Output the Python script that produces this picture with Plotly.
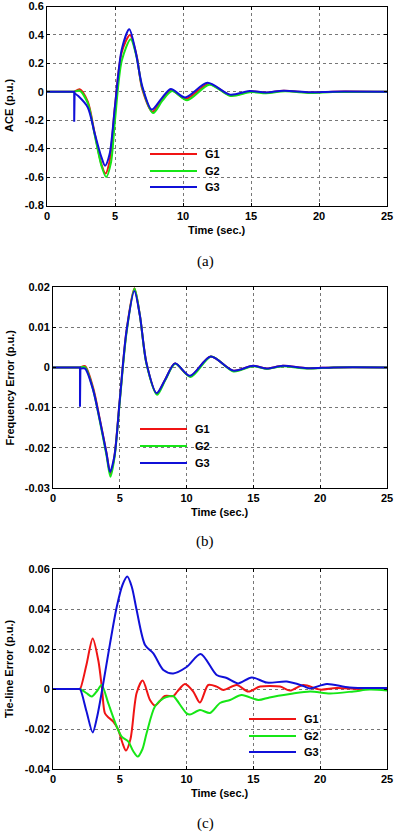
import plotly.graph_objects as go

W, H = 395, 834

# ---------------- data ----------------
# Panel (a): ACE
ace_g1_t = [0, 1.9, 2.0, 2.4, 3.0, 3.5, 4.0, 4.3, 4.6, 5.0, 5.5, 6.1, 6.6, 7.0, 7.75, 8.5, 9.15, 10.2, 11.9, 13.5, 15.0, 16.1, 17.4, 19.3, 21.0, 25.0]
ace_g1_v = [0, 0, 0, 0.018, -0.07, -0.29, -0.51, -0.575, -0.49, -0.1, 0.28, 0.40, 0.25, 0.02, -0.14, -0.05, 0.01, -0.05, 0.055, -0.025, 0.003, -0.006, 0.007, -0.005, 0.001, 0]
ace_g2_t = [0, 1.9, 2.0, 2.4, 3.0, 3.5, 4.0, 4.35, 4.7, 5.0, 5.5, 6.15, 6.6, 7.0, 7.8, 8.5, 9.2, 10.3, 11.95, 13.5, 15.0, 16.1, 17.5, 19.4, 21.0, 25.0]
ace_g2_v = [0, 0, 0, 0.008, -0.08, -0.30, -0.52, -0.60, -0.50, -0.2, 0.22, 0.37, 0.24, 0.03, -0.15, -0.06, 0.005, -0.06, 0.05, -0.03, -0.002, -0.01, 0.003, -0.008, -0.002, 0]
ace_g3_t = [0, 2.0, 2.0, 2.03, 2.3, 3.0, 3.5, 4.0, 4.27, 4.6, 5.0, 5.5, 6.05, 6.5, 7.0, 7.7, 8.4, 9.1, 10.15, 11.8, 13.45, 14.9, 16.1, 17.4, 19.3, 21.0, 25.0]
ace_g3_v = [0, 0, -0.21, -0.01, -0.03, -0.11, -0.29, -0.46, -0.52, -0.44, -0.1, 0.30, 0.44, 0.29, 0.04, -0.125, -0.05, 0.02, -0.04, 0.063, -0.02, 0.005, -0.005, 0.008, -0.004, 0.001, 0]

# Panel (b): Frequency error
fe_g1_t = [0, 1.9, 2.02, 2.4, 3.0, 3.5, 4.0, 4.3, 4.6, 5.0, 5.5, 6.09, 6.5, 7.0, 7.76, 8.4, 9.13, 10.25, 11.8, 13.5, 15.0, 16.0, 17.2, 19.0, 21.0, 25.0]
fe_g1_v = [0, 0, 0, 0.0003, -0.005, -0.0128, -0.0212, -0.0265, -0.022, -0.008, 0.009, 0.0197, 0.013, 0.001, -0.0065, -0.003, 0.001, -0.0022, 0.0027, -0.0008, 0.0004, -0.0003, 0.0004, -0.0002, 0, 0]
fe_g2_t = [0, 1.9, 2.02, 2.4, 3.0, 3.5, 4.0, 4.3, 4.6, 5.0, 5.5, 6.1, 6.5, 7.0, 7.8, 8.4, 9.15, 10.3, 11.85, 13.5, 15.0, 16.0, 17.2, 19.0, 21.0, 25.0]
fe_g2_v = [0, 0, 0, 0.0001, -0.0055, -0.0133, -0.0218, -0.0272, -0.0225, -0.0085, 0.0085, 0.0196, 0.013, 0.0008, -0.0068, -0.0032, 0.0009, -0.0024, 0.0027, -0.0010, 0.0003, -0.0004, 0.0003, -0.0003, 0, 0]
fe_g3_t = [0, 2.02, 2.02, 2.05, 2.4, 3.0, 3.5, 4.0, 4.27, 4.6, 5.0, 5.5, 6.09, 6.5, 7.0, 7.76, 8.4, 9.13, 10.25, 11.8, 13.5, 14.98, 16.0, 17.2, 19.0, 21.0, 25.0]
fe_g3_v = [0, 0, -0.0098, -0.0003, -0.0003, -0.0056, -0.013, -0.0213, -0.026, -0.022, -0.008, 0.009, 0.019, 0.013, 0.001, -0.0064, -0.003, 0.001, -0.0021, 0.0027, -0.0008, 0.0004, -0.0003, 0.0004, -0.0002, 0, 0]

# Panel (c): Tie-line error
tl_g1_t = [0, 1.9, 2.02, 2.5, 2.97, 3.4, 3.67, 3.89, 4.2, 4.51, 4.89, 5.2, 5.46, 5.8, 6.26, 6.71, 7.26, 7.63, 8.38, 9.0, 9.3, 9.88, 10.5, 11.0, 11.62, 12.25, 12.75, 13.75, 14.62, 15.5, 17.0, 17.74, 18.74, 20.0, 21.2, 23.0, 25.0]
tl_g1_v = [0, 0, 0, 0.012, 0.0253, 0.014, 0.0, -0.0122, -0.0145, -0.0163, -0.0205, -0.027, -0.0308, -0.025, -0.002, 0.0042, -0.0055, -0.0083, -0.0035, -0.0035, -0.0013, 0.0025, -0.0013, -0.0068, 0.002, 0.0012, -0.0005, 0.002, -0.0013, 0.0012, 0.0012, -0.0008, 0.002, -0.0003, 0.0005, 0, 0]
tl_g2_t = [0, 1.9, 2.02, 2.5, 2.9, 3.3, 3.64, 4.14, 4.77, 5.14, 5.64, 6.0, 6.34, 6.7, 7.01, 7.63, 8.26, 9.0, 9.26, 10.0, 10.25, 11.0, 11.75, 12.5, 13.25, 14.12, 15.37, 16.2, 17.74, 19.24, 20.73, 22.5, 23.7, 25.0]
tl_g2_v = [0, 0, 0, -0.002, -0.0038, -0.001, 0.002, -0.0072, -0.0188, -0.0238, -0.0263, -0.031, -0.0338, -0.03, -0.022, -0.0088, -0.0047, -0.0035, -0.0055, -0.0122, -0.0128, -0.0105, -0.012, -0.007, -0.0055, -0.003, -0.0055, -0.0042, -0.0025, -0.0012, -0.0022, -0.0012, -0.0003, -0.0007]
tl_g3_t = [0, 1.9, 2.02, 2.5, 2.97, 3.3, 3.69, 4.27, 4.77, 5.2, 5.56, 5.9, 6.26, 6.89, 7.51, 8.26, 9.0, 10.0, 11.05, 12.25, 13.0, 13.87, 14.87, 16.0, 17.5, 18.74, 19.24, 20.49, 22.2, 25.0]
tl_g3_v = [0, 0, 0, -0.011, -0.0217, -0.014, 0.0, 0.0228, 0.041, 0.052, 0.0562, 0.051, 0.0395, 0.022, 0.0178, 0.0095, 0.0078, 0.011, 0.0175, 0.007, 0.0055, 0.0028, 0.0058, 0.0032, 0.0037, 0.0015, 0.0003, 0.0025, 0.0007, 0.0005]

x_ticks = [0, 5, 10, 15, 20, 25]
x_ticklabels = ["0", "5", "10", "15", "20", "25"]
ace_ticks = [0.6, 0.4, 0.2, 0, -0.2, -0.4, -0.6, -0.8]
ace_ticklabels = ["0.6", "0.4", "0.2", "0", "-0.2", "-0.4", "-0.6", "-0.8"]
fe_ticks = [0.02, 0.01, 0, -0.01, -0.02, -0.03]
fe_ticklabels = ["0.02", "0.01", "0", "-0.01", "-0.02", "-0.03"]
tl_ticks = [0.06, 0.04, 0.02, 0, -0.02, -0.04]
tl_ticklabels = ["0.06", "0.04", "0.02", "0", "-0.02", "-0.04"]

series_names = ["G1", "G2", "G3"]
colors = ["#f01414", "#16e616", "#1010d8"]

# ---------------- figure ----------------
def px_x(p):
    return min(1.0, max(0.0, p / W))

def px_y(p):
    return min(1.0, max(0.0, 1 - p / H))

panels = [
    dict(xl=47, xr=387, yt=6.5, yb=205.5, yr=[-0.8, 0.6], tv=ace_ticks, tt=ace_ticklabels,
         data=[(ace_g1_t, ace_g1_v), (ace_g2_t, ace_g2_v), (ace_g3_t, ace_g3_v)],
         ytitle="ACE (p.u.)", cap="(a)", capy=261, leg_y=[154, 171, 187], leg_x=150),
    dict(xl=53, xr=387, yt=287, yb=488, yr=[-0.03, 0.02], tv=fe_ticks, tt=fe_ticklabels,
         data=[(fe_g1_t, fe_g1_v), (fe_g2_t, fe_g2_v), (fe_g3_t, fe_g3_v)],
         ytitle="Frequency Error (p.u.)", cap="(b)", capy=541, leg_y=[429, 446, 463], leg_x=140),
    dict(xl=53, xr=387, yt=569, yb=769, yr=[-0.04, 0.06], tv=tl_ticks, tt=tl_ticklabels,
         data=[(tl_g1_t, tl_g1_v), (tl_g2_t, tl_g2_v), (tl_g3_t, tl_g3_v)],
         ytitle="Tie-line Error (p.u.)", cap="(c)", capy=823, leg_y=[719, 736, 752], leg_x=249),
]

fig = go.Figure()
annotations = []
shapes = []
boldfont = dict(family="Liberation Sans, Arial, sans-serif", size=11, color="black", weight="bold")


def spike_end(t):
    for j in range(1, len(t)):
        if t[j] == t[j - 1]:
            return j + 1
    return None


for i, p in enumerate(panels):
    n = "" if i == 0 else str(i + 1)
    for k, (t, v) in enumerate(p["data"]):
        e = spike_end(t)
        if e is not None:
            fig.add_trace(go.Scatter(x=t[:e + 1], y=v[:e + 1], mode="lines", name=series_names[k],
                                     line=dict(color=colors[k], width=2),
                                     xaxis="x" + n, yaxis="y" + n, showlegend=False))
            fig.add_trace(go.Scatter(x=t[e:], y=v[e:], mode="lines", name=series_names[k],
                                     line=dict(color=colors[k], width=2, shape="spline", smoothing=0.8),
                                     xaxis="x" + n, yaxis="y" + n, showlegend=False))
        else:
            fig.add_trace(go.Scatter(x=t, y=v, mode="lines", name=series_names[k],
                                     line=dict(color=colors[k], width=2, shape="spline", smoothing=0.8),
                                     xaxis="x" + n, yaxis="y" + n, showlegend=False))
    common = dict(showline=True, linecolor="black", linewidth=1, mirror="allticks",
                  ticks="inside", ticklen=3, tickcolor="black", automargin=False,
                  ticklabeloverflow="allow",
                  showgrid=True, gridcolor="#777", griddash="dot", gridwidth=1,
                  zeroline=False, tickfont=boldfont)
    fig.update_layout(**{
        "xaxis" + n: dict(domain=[px_x(p["xl"]), px_x(p["xr"])], range=[0, 25],
                          anchor="y" + n, tickvals=x_ticks, ticktext=x_ticklabels, **common),
        "yaxis" + n: dict(domain=[px_y(p["yb"]), px_y(p["yt"])], range=p["yr"],
                          anchor="x" + n, tickvals=p["tv"], ticktext=p["tt"], **common),
    })
    xc = (p["xl"] + p["xr"]) / 2
    annotations.append(dict(text="Time (sec.)", x=px_x(xc), y=px_y(p["yb"] + 24), xref="paper", yref="paper",
                            xanchor="center", yanchor="middle", showarrow=False, font=boldfont))
    annotations.append(dict(text=p["ytitle"], x=px_x(1), y=px_y((p["yt"] + p["yb"]) / 2), xref="paper", yref="paper",
                            xanchor="left", yanchor="middle", showarrow=False, textangle=-90, font=boldfont))
    annotations.append(dict(text=p["cap"], x=px_x(205), y=px_y(p["capy"]), xref="paper", yref="paper",
                            xanchor="center", yanchor="middle", showarrow=False,
                            font=dict(family="Liberation Serif, Times New Roman, serif", size=15, color="black")))
    for k in range(3):
        ly = p["leg_y"][k]
        shapes.append(dict(type="line", xref="paper", yref="paper",
                           x0=px_x(p["leg_x"]), x1=px_x(p["leg_x"] + 47), y0=px_y(ly), y1=px_y(ly),
                           line=dict(color=colors[k], width=2)))
        annotations.append(dict(text=series_names[k], x=px_x(p["leg_x"] + 53), y=px_y(ly), xref="paper", yref="paper",
                                xanchor="left", yanchor="middle", showarrow=False, font=boldfont))

fig.update_layout(width=W, height=H, margin=dict(l=0, r=0, t=0, b=0),
                  paper_bgcolor="white", plot_bgcolor="white",
                  annotations=annotations, shapes=shapes, showlegend=False)

# remove the default 8px page margin so the figure sits at the window's top-left corner
fig.write_html("out.html", config={"displayModeBar": False},
               post_script="document.body.style.margin='0px';")
